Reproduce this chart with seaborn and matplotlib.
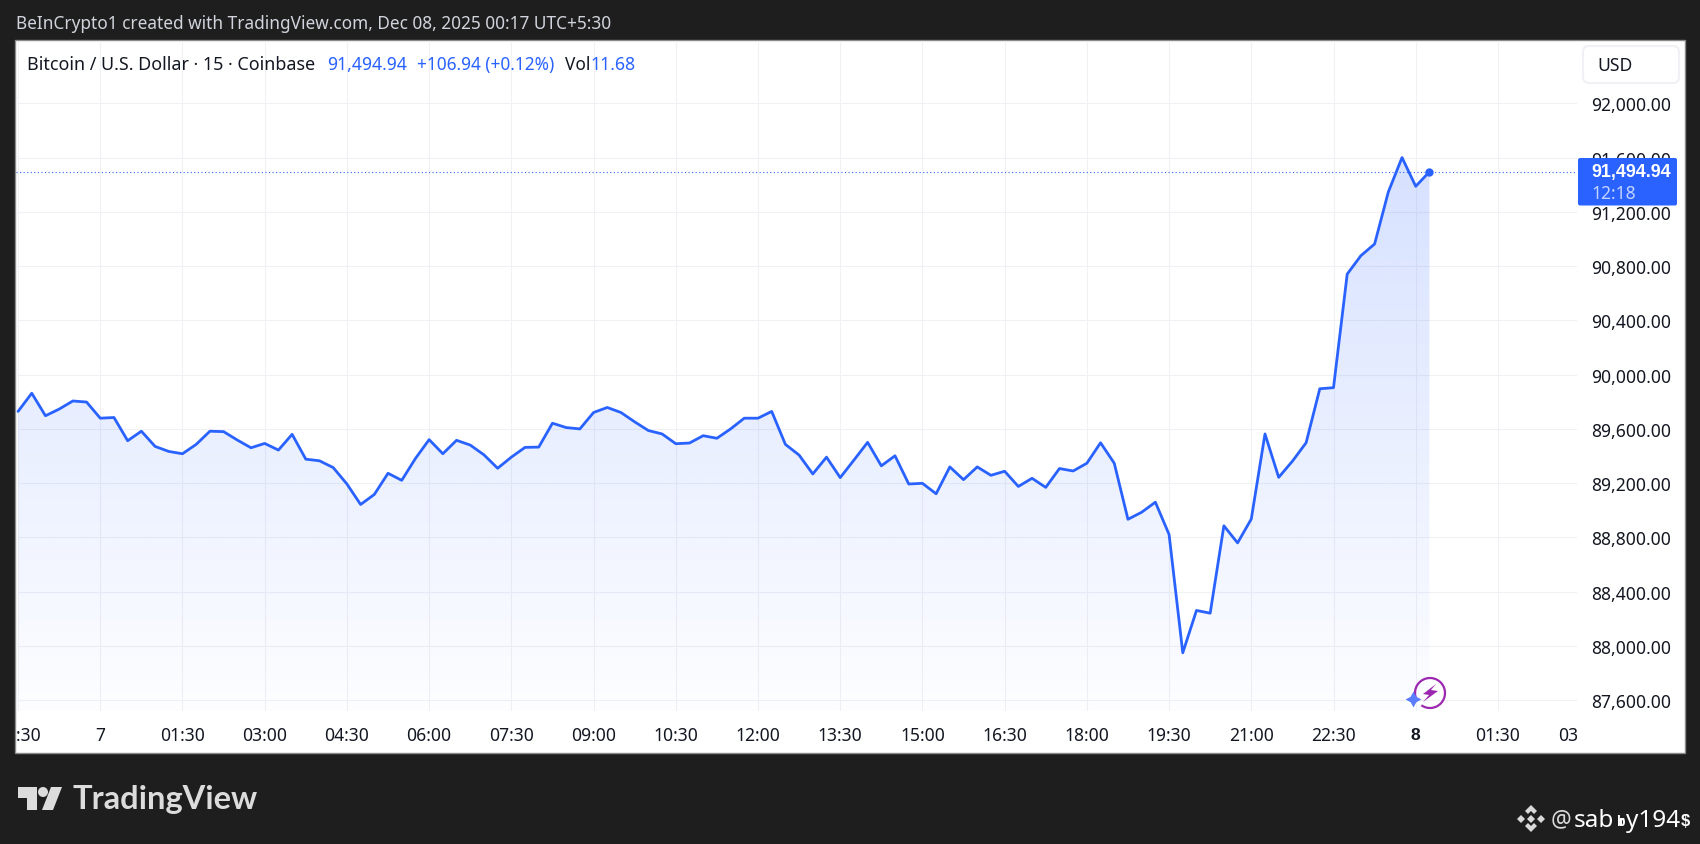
import numpy as np
import pandas as pd
import matplotlib
matplotlib.use("Agg")
import matplotlib.pyplot as plt
from matplotlib.patches import Rectangle, FancyBboxPatch, Polygon, Circle, Arc
from matplotlib.transforms import Bbox
import seaborn as sns

# BTC/USD 15 min closes, first bar is 22:30 on Dec 6
prices = [
    89729, 89863, 89697, 89746, 89806, 89798, 89679, 89684, 89513, 89583,
    89471, 89434, 89417, 89486, 89583, 89580, 89518, 89461, 89493, 89444,
    89560, 89377, 89365, 89315, 89194, 89043, 89117, 89273, 89221, 89382,
    89521, 89417, 89516, 89481, 89409, 89310, 89392, 89464, 89466, 89642,
    89610, 89600, 89721, 89758, 89721, 89652, 89588, 89563, 89491, 89496,
    89550, 89531, 89600, 89679, 89679, 89729, 89486, 89407, 89268, 89392,
    89241, 89370, 89501, 89328, 89402, 89194, 89199, 89122, 89320, 89226,
    89320, 89258, 89288, 89176, 89236, 89169, 89308, 89290, 89347, 89498,
    89347, 88934, 88986, 89060, 88822, 87950, 88262, 88242, 88886, 88760,
    88936, 89563, 89243, 89362, 89498, 89896, 89904, 90741, 90877, 90963,
    91346, 91600, 91388, 91494.94,
]
y_ticks = [87600, 88000, 88400, 88800, 89200, 89600, 90000, 90400, 90800, 91200, 91600, 92000]
x_tick_bars = list(range(0, 120, 6))
x_tick_labels = ["22:30", "7", "01:30", "03:00", "04:30", "06:00", "07:30", "09:00", "10:30", "12:00",
                 "13:30", "15:00", "16:30", "18:00", "19:30", "21:00", "22:30", "8", "01:30", "03:00"]

W, H = 1700, 845
BLUE = "#2962ff"
DARK = "#1e1e1e"
GRID = "#f0f1f4"
INK = "#131722"
LIGHT = "#d1d4dc"

sns.set_theme(style="white")
plt.rcParams["font.family"] = ["Noto Sans", "DejaVu Sans"]

df = pd.DataFrame({"bar": np.arange(len(prices)), "price": prices})

fig = plt.figure(figsize=(W / 100, H / 100), dpi=100, facecolor=DARK)

# layer in pixel coordinates for everything around the chart
back = fig.add_axes([0, 0, 1, 1], zorder=0)
back.set_xlim(0, W)
back.set_ylim(H, 0)
back.axis("off")
back.add_patch(Rectangle((15, 41), 1670, 713, fc="white", ec="#8a8a8a", lw=1))

# main chart, 16..1577 by 42..712 in pixels
ax = fig.add_axes([16 / W, 1 - 712 / H, (1577 - 16) / W, (712 - 42) / H], zorder=1)
ax.patch.set_alpha(0)

ymin, ymax = 87521, 92459
ax.set_xticks(x_tick_bars)
ax.set_yticks(y_ticks)
ax.grid(True, color=GRID, lw=0.75)
ax.set_axisbelow(True)

# gradient under the line
area = ax.fill_between(df["bar"], df["price"], ymin, color="none", lw=0)
grad = np.zeros((256, 2, 4))
grad[..., :3] = matplotlib.colors.to_rgb(BLUE)
grad[..., 3] = np.linspace(0.19, 0.01, 256)[:, None]
top = df["price"].max()
im = ax.imshow(grad, extent=[0, len(prices) - 1, ymin, top], origin="upper",
               aspect="auto", zorder=1.6, interpolation="bilinear")
im.set_clip_path(area.get_paths()[0], ax.transData)

sns.lineplot(data=df, x="bar", y="price", color=BLUE, linewidth=2.0, ax=ax, zorder=3,
             errorbar=None)
ax.axhline(prices[-1], color=BLUE, lw=0.8, ls=(0, (1, 2.2)), zorder=2)
ax.scatter([df["bar"].iloc[-1]], [prices[-1]], s=36, color=BLUE, lw=0, zorder=4)

ax.set_xlim(-0.15, 113.77)
ax.set_ylim(ymin, ymax)
ax.set_xlabel("")
ax.set_ylabel("")
for s in ax.spines.values():
    s.set_visible(False)
ax.yaxis.tick_right()
ax.set_yticklabels([f"{v:,.2f}" for v in y_ticks])
ax.tick_params(axis="y", length=0, pad=10, labelsize=12.6, labelcolor=INK)
ax.tick_params(axis="x", length=0, labelbottom=False)

# time labels get cut at the pane edges like on the original
clip = Bbox([[16, 0], [1577, H]])
for bar, lab in zip(x_tick_bars, x_tick_labels):
    is_day = lab == "8"
    t = ax.text(bar, -(736 - 712) / (712 - 42), lab, transform=ax.get_xaxis_transform(),
                ha="center", va="center", fontsize=12.6, color=INK,
                fontweight="bold" if is_day else "normal",
                family="Liberation Sans" if is_day else None)
    t.set_clip_box(clip)
    t.set_clip_on(True)

# pixel layer on top: header, price tag, logo
ov = fig.add_axes([0, 0, 1, 1], zorder=5)
ov.set_xlim(0, W)
ov.set_ylim(H, 0)
ov.axis("off")


def label(x, y, s, color=INK, size=12.4, **kw):
    return ov.text(x, y, s, color=color, fontsize=size, va="center", **kw)


label(16, 24, "BeInCrypto1 created with TradingView.com, Dec 08, 2025 00:17 UTC+5:30", color=LIGHT, size=12.4)
label(27, 65, "Bitcoin / U.S. Dollar · 15 · Coinbase", size=12.9)
label(327, 65, "91,494.94", color=BLUE, size=12.7)
label(417, 65, "+106.94 (+0.12%)", color=BLUE, size=12.4)
label(565, 65, "Vol", size=12.4)
label(590, 65, "11.68", color=BLUE, size=12.7)

ov.add_patch(FancyBboxPatch((1583, 47), 96, 37, boxstyle="round,pad=0,rounding_size=6", fc="white", ec=GRID, lw=1.5))
label(1597, 66, "USD", size=12.6)

ov.add_patch(FancyBboxPatch((1578, 159), 99, 47.5, boxstyle="round,pad=0,rounding_size=2", fc=BLUE, ec="none"))
label(1591, 172.5, "91,494.94", color="white", size=12.9, fontweight="bold", family="Liberation Sans")
label(1591, 194, "12:18", color="#c3d3ff", size=12.6)

# little assistant badge bottom right of the pane
ov.add_patch(Arc((1430, 694), 30, 30, theta1=-210, theta2=125, color="#9c27b0", lw=1.6))
ov.add_patch(Polygon([(1436, 685), (1423, 695), (1429, 696), (1423, 703), (1438, 692), (1431, 691)],
                     fc="#9c27b0", ec="none"))
ov.scatter([1413], [700], marker=(4, 1, 0), s=130, color="#5b7cff", lw=0)

# TradingView mark
LOGO = "#dcdcdc"
ov.add_patch(Polygon([(18, 788), (37, 788), (37, 811), (27, 811), (27, 799), (18, 799)], fc=LOGO, ec="none"))
ov.add_patch(Circle((43, 793), 5, fc=LOGO, ec="none"))
ov.add_patch(Polygon([(51, 788), (62, 788), (53, 811), (42, 811)], fc=LOGO, ec="none"))
label(73, 800, "TradingView", color=LOGO, size=23.5, fontweight="bold", family="Lato")

# watermark bottom right
WM = "#d9d9d9"
ov.add_patch(Polygon([(1531, 806), (1537, 812), (1534, 815), (1531, 812), (1528, 815), (1525, 812)], fc=WM, ec="none"))
ov.add_patch(Polygon([(1531, 833), (1525, 827), (1528, 824), (1531, 827), (1534, 824), (1537, 827)], fc=WM, ec="none"))
ov.add_patch(Polygon([(1531, 816), (1535, 820), (1531, 824), (1527, 820)], fc=WM, ec="none"))
ov.add_patch(Polygon([(1521, 816), (1525, 820), (1521, 824), (1517, 820)], fc=WM, ec="none"))
ov.add_patch(Polygon([(1541, 816), (1545, 820), (1541, 824), (1537, 820)], fc=WM, ec="none"))
label(1551, 820, "@", color=WM, size=16.5)
label(1574, 821, "sab", color="white", size=17.5)
label(1616, 822, "b", color="white", size=10, fontweight="bold", family="Liberation Sans")
label(1619, 822, "r", color="white", size=10, fontweight="bold", family="Liberation Sans")
label(1626, 821, "y194", color="white", size=17.5)
label(1681, 822, "$", color="white", size=12, fontweight="bold", family="Liberation Sans")

fig.savefig("out.png", dpi=100, facecolor=DARK)
